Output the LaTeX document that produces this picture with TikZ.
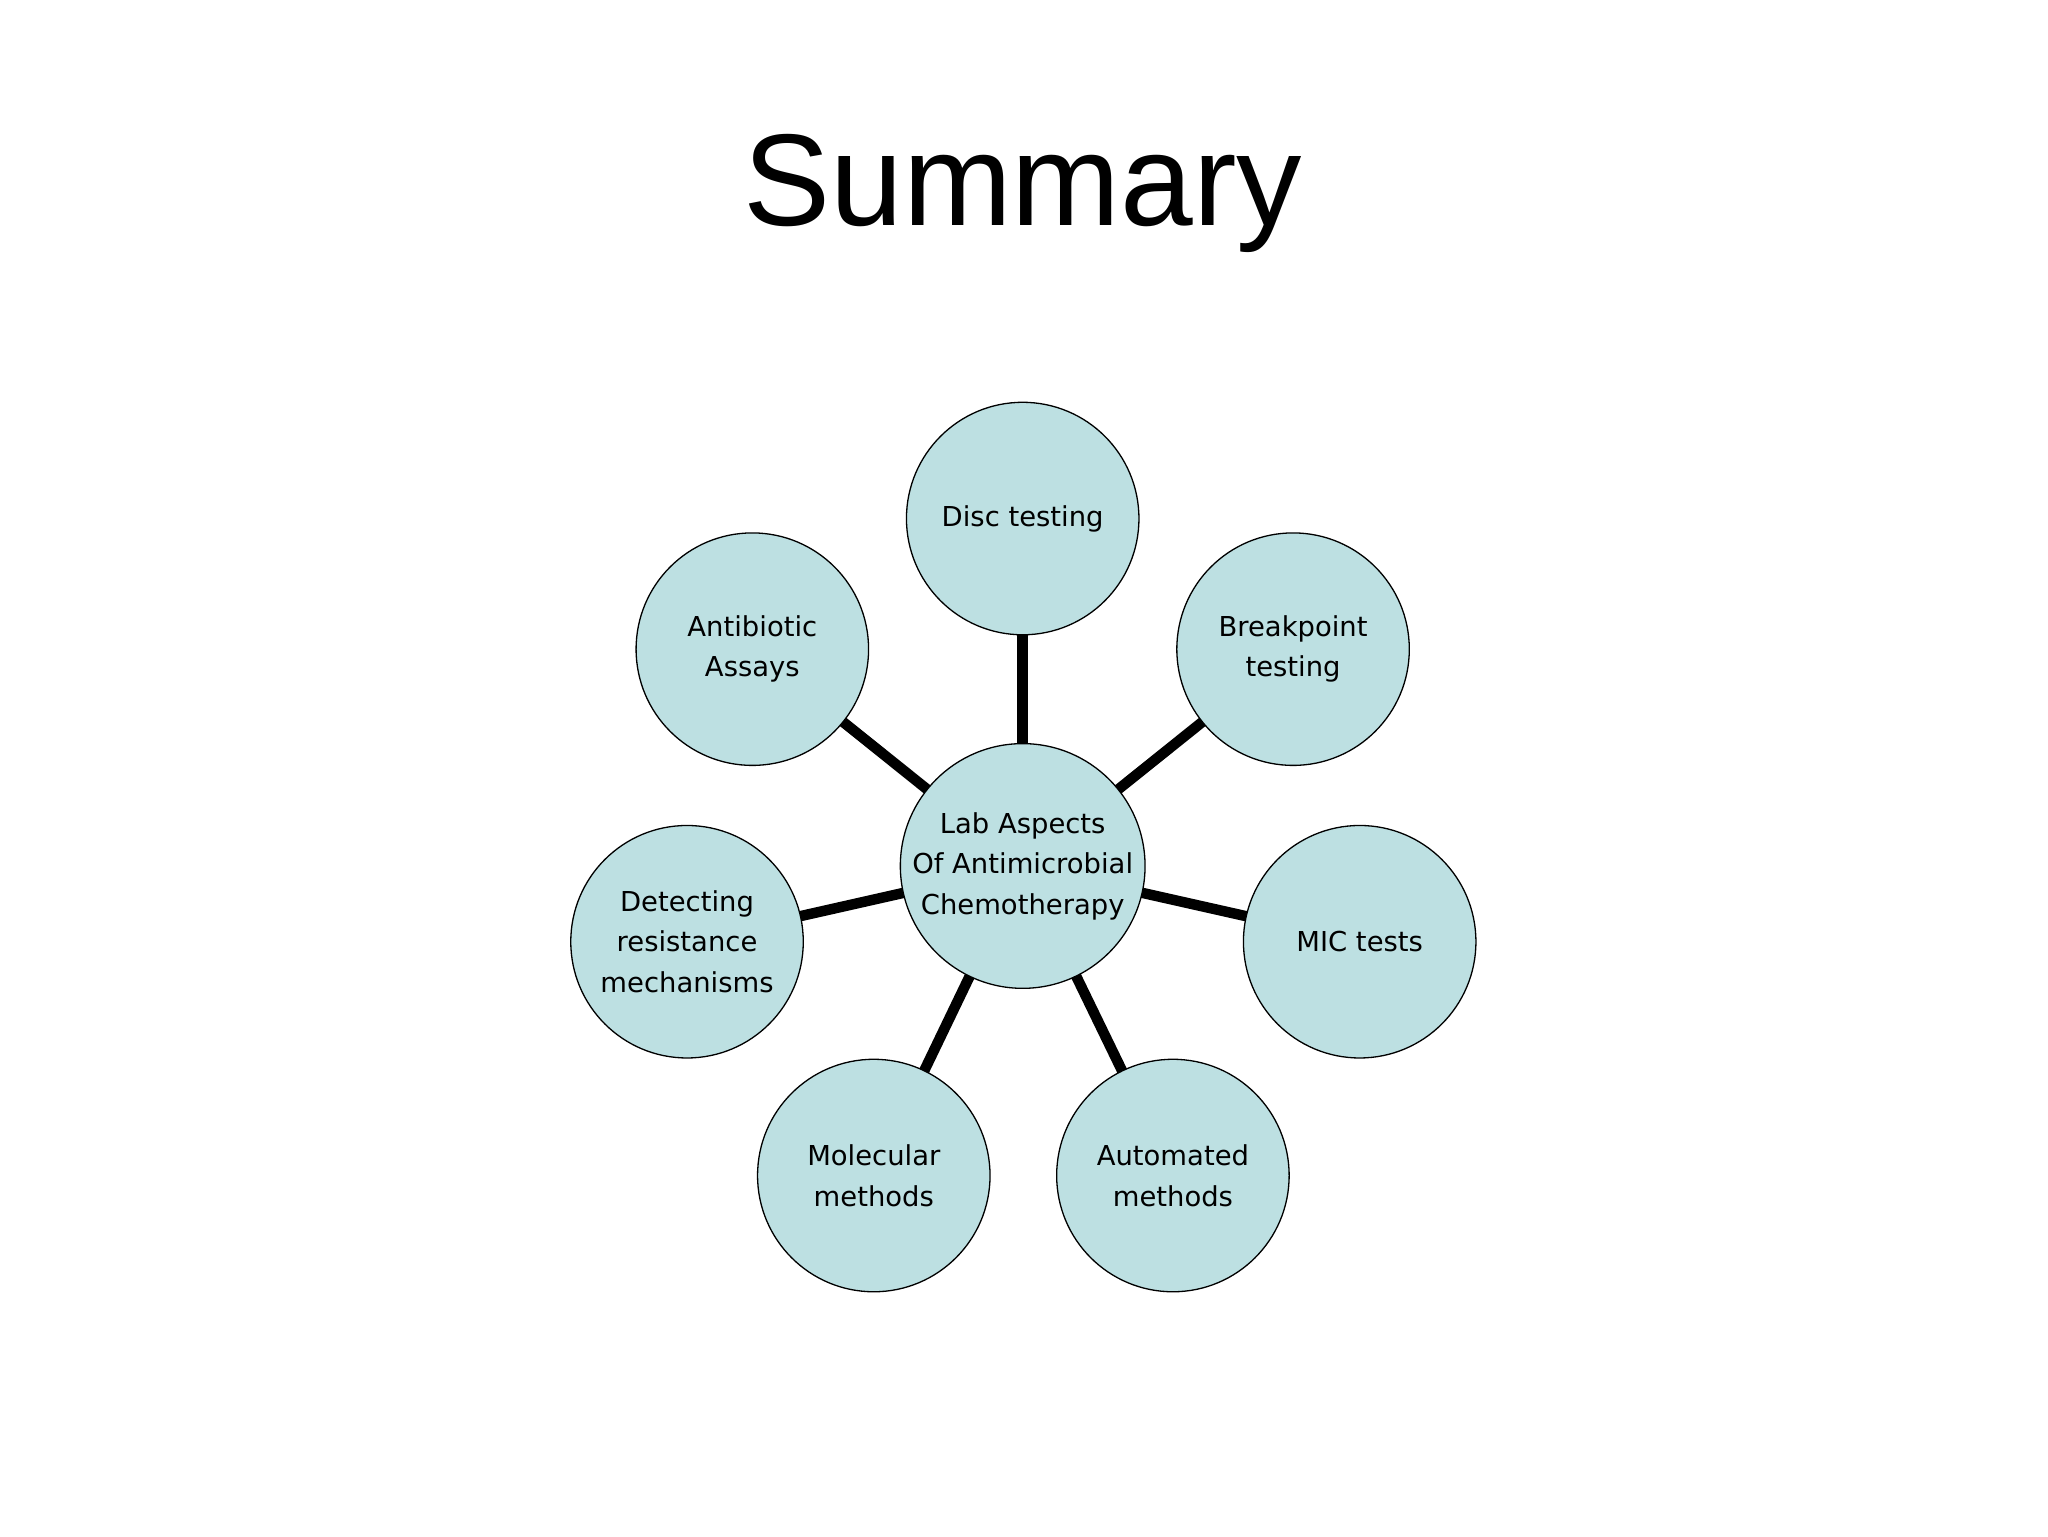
\documentclass[tikz,border=0pt]{standalone}
\usepackage{fontspec}
\setmainfont{DejaVu Sans}
\newfontfamily\titlefont{Liberation Sans}
\usetikzlibrary{backgrounds}
\definecolor{bub}{HTML}{BDE0E2}
\begin{document}
\begin{tikzpicture}[x=1pt,y=-1pt,
  bubble/.style={circle,draw=black,line width=1pt,fill=bub,minimum size=178pt,inner sep=0pt,align=center,font=\fontsize{21}{31}\selectfont},
  spoke/.style={line width=8pt,black}]
\useasboundingbox (0,0) rectangle (1568,1176);
\node[font=\titlefont\fontsize{100}{110}\selectfont] (title) at (783,148) {Summary};
\node[bubble] (c) at (783,663) {Lab Aspects\\Of Antimicrobial\\Chemotherapy};
\node[bubble] (d) at (783,397) {Disc testing};
\node[bubble] (b) at (990,497) {Breakpoint\\testing};
\node[bubble] (a) at (576,497) {Antibiotic\\Assays};
\node[bubble] (r) at (526,721) {Detecting\\resistance\\mechanisms};
\node[bubble] (m) at (1041,721) {MIC tests};
\node[bubble] (mo) at (669,900) {Molecular\\methods};
\node[bubble] (au) at (898,900) {Automated\\methods};
\begin{scope}[on background layer]
\foreach \n in {d,b,a,r,m,mo,au} \draw[spoke] (c.center) -- (\n.center);
\end{scope}
\end{tikzpicture}
\end{document}
